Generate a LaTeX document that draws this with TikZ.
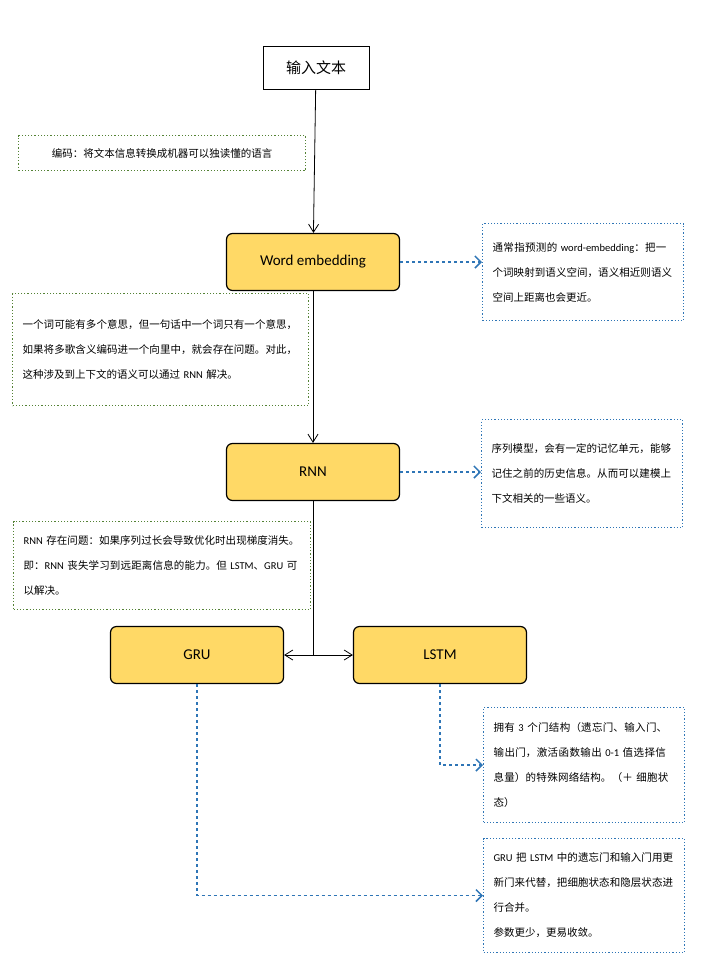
\documentclass[tikz,border=0pt]{standalone}
\usepackage{fontspec}
\setmainfont{Noto Sans CJK SC}
\newfontfamily\lat{Carlito}
\XeTeXlinebreaklocale "zh"
\XeTeXlinebreakskip=0pt plus 1pt
\usetikzlibrary{positioning,arrows.meta}
\definecolor{boxfill}{HTML}{FFD966}
\definecolor{noteblue}{HTML}{2E75B6}
\definecolor{notegreen}{HTML}{548235}
\tikzset{
    model/.style={draw, line width=1.2pt, rounded corners=6pt, fill=boxfill,
        minimum width=173pt, minimum height=57pt, font=\lat\fontsize{15}{18}\selectfont},
    note/.style={draw, dotted, line width=1.2pt, align=left, inner xsep=10pt, inner ysep=4pt,
        font=\fontsize{10.5}{25}\selectfont},
    bnote/.style={note, draw=noteblue, text width=181pt},
    gnote/.style={note, draw=notegreen},
    link/.style={dashed, line width=1.5pt, draw=noteblue, -{Straight Barb[length=6pt,width=12pt]}},
    flow/.style={line width=0.8pt, -{Straight Barb[length=8pt,width=10pt]}}
}
\begin{document}
\begin{tikzpicture}[x=1pt,y=-1pt]
    \useasboundingbox (0,0) rectangle (704,970);
    % main chain
    \node[draw, line width=0.8pt, minimum width=106pt, minimum height=43pt,
        font=\fontsize{15}{18}\selectfont] (input) at (316,68) {输入文本};
    \node[model] (emb) at (313,262) {Word embedding};
    \node[model] (rnn) at (313,472) {RNN};
    \node[model] (gru) at (197,655) {GRU};
    \node[model] (lstm) at (440,655) {LSTM};
    \coordinate (split) at (313,655);

    % notes
    \node[gnote, minimum width=287pt, minimum height=35pt, inner ysep=0pt, anchor=north west] (enc) at (18,135) {编码：将文本信息转换成机器可以独读懂的语言};
    \node[bnote, anchor=north west, minimum height=97pt] (n1) at (482,223)
        {通常指预测的 {\lat word-embedding}：把一个词映射到语义空间，语义相近则语义空间上距离也会更近。};
    \node[gnote, text width=276pt, anchor=north west, minimum height=112pt] (n2) at (12,293)
        {一个词可能有多个意思，但一句话中一个词只有一个意思，如果将多歌含义编码进一个向里中，就会存在问题。对此，这种涉及到上下文的语义可以通过 {\lat RNN} 解决。};
    \node[bnote, anchor=north west, minimum height=108pt] (n3) at (481,419)
        {序列模型，会有一定的记忆单元，能够记住之前的历史信息。从而可以建模上下文相关的一些语义。};
    \node[gnote, text width=277pt, anchor=north west, minimum height=88pt] (n4) at (13,521)
        {{\lat RNN} 存在问题：如果序列过长会导致优化时出现梯度消失。即：{\lat RNN} 丧失学习到远距离信息的能力。但 {\lat LSTM}、{\lat GRU} 可以解决。};
    \node[bnote, anchor=north west, minimum height=115pt] (n5) at (483,707)
        {拥有 {\lat 3} 个门结构（遗忘门、输入门、输出门，激活函数输出 {\lat 0-1} 值选择信息量）的特殊网络结构。（＋ 细胞状态）};
    \node[bnote, anchor=north west, minimum height=114pt] (n6) at (483,838)
        {{\lat GRU} 把 {\lat LSTM} 中的遗忘门和输入门用更新门来代替，把细胞状态和隐层状态进行合并。\\参数更少，更易收敛。};

    % connectors
    \draw[flow] (input) -- (emb);
    \draw[flow] (emb) -- (rnn);
    \draw[line width=0.8pt] (rnn) -- (split);
    \draw[flow] (split) -- (gru);
    \draw[flow] (split) -- (lstm);
    \draw[link] (emb) -- (emb -| n1.west);
    \draw[link] (rnn) -- (rnn -| n3.west);
    \draw[link] (lstm.south) |- (n5.west);
    \draw[link] (gru.south) |- (n6.west);
\end{tikzpicture}
\end{document}
